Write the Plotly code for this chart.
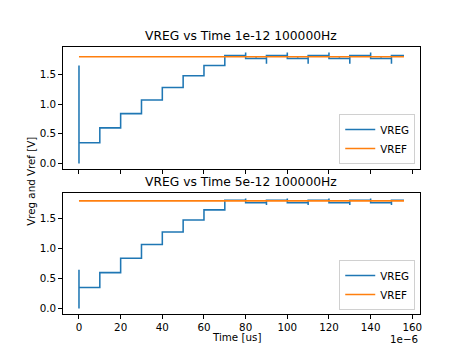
import plotly.graph_objects as go

# ---- data (time in microseconds, voltage in volts) ----
t_top = [0, 0, 0, 10, 10, 20, 20, 30, 30, 40, 40, 50, 50, 60, 60, 70, 70,
         80, 80, 80, 85, 85, 85, 90, 90, 90,
         100, 100, 100, 105, 105, 105, 110, 110, 110,
         120, 120, 120, 125, 125, 125, 130, 130, 130,
         140, 140, 140, 145, 145, 145, 150, 150, 150, 156]
v_top = [0.0, 1.65, 0.35, 0.35, 0.60, 0.60, 0.84, 0.84, 1.07, 1.07, 1.28, 1.28, 1.48, 1.48, 1.65, 1.65, 1.82,
         1.82, 1.87, 1.77, 1.77, 1.79, 1.77, 1.77, 1.68, 1.82,
         1.82, 1.87, 1.77, 1.77, 1.79, 1.77, 1.77, 1.68, 1.82,
         1.82, 1.87, 1.77, 1.77, 1.79, 1.77, 1.77, 1.68, 1.82,
         1.82, 1.87, 1.77, 1.77, 1.79, 1.77, 1.77, 1.68, 1.82, 1.82]

t_bot = [0, 0, 0, 10, 10, 20, 20, 30, 30, 40, 40, 50, 50, 60, 60, 70, 70,
         80, 80, 80, 90, 90, 90,
         100, 100, 100, 110, 110, 110,
         120, 120, 120, 130, 130, 130,
         140, 140, 140, 150, 150, 150, 156]
v_bot = [0.0, 0.65, 0.35, 0.35, 0.60, 0.60, 0.84, 0.84, 1.07, 1.07, 1.28, 1.28, 1.48, 1.48, 1.65, 1.65, 1.81,
         1.81, 1.84, 1.77, 1.77, 1.73, 1.81,
         1.81, 1.84, 1.77, 1.77, 1.73, 1.81,
         1.81, 1.84, 1.77, 1.77, 1.73, 1.81,
         1.81, 1.84, 1.77, 1.77, 1.73, 1.81, 1.81]

t_ref = [0, 156]
v_ref = [1.8, 1.8]

titles = ["VREG vs Time 1e-12 100000Hz", "VREG vs Time 5e-12 100000Hz"]
x_ticks = [0, 20, 40, 60, 80, 100, 120, 140, 160]
y_ticks = [0.0, 0.5, 1.0, 1.5]
y_tick_text = ["0.0", "0.5", "1.0", "1.5"]

BLUE = "#1f77b4"
ORANGE = "#ff7f0e"
W, H = 474, 358
FONT = "DejaVu Sans"


def pad_range(vals, m=0.05):
    lo, hi = min(vals), max(vals)
    d = hi - lo
    return [lo - m * d, hi + m * d]


fig = go.Figure()

xr = pad_range(t_top + t_bot + t_ref)
x_dom = [63 / W, 422 / W]
y_doms = [[1 - 169 / H, 1 - 47 / H], [1 - 314 / H, 1 - 193 / H]]

series = [(t_top, v_top), (t_bot, v_bot)]
for i, (tt, vv) in enumerate(series):
    ax = "" if i == 0 else str(i + 1)
    lg = "legend" if i == 0 else "legend2"
    fig.add_trace(go.Scatter(x=tt, y=vv, mode="lines", name="VREG",
                             line=dict(color=BLUE, width=1.55),
                             xaxis="x" + ax, yaxis="y" + ax, legend=lg))
    fig.add_trace(go.Scatter(x=t_ref, y=v_ref, mode="lines", name="VREF",
                             line=dict(color=ORANGE, width=1.55),
                             xaxis="x" + ax, yaxis="y" + ax, legend=lg))

axis_common = dict(showline=True, linecolor="black", linewidth=0.8, mirror=True,
                   ticks="outside", ticklen=3.6, tickwidth=0.8, tickcolor="black",
                   showgrid=False, zeroline=False,
                   tickfont=dict(family=FONT, size=10.3, color="black"))

layout = dict(
    width=W, height=H, margin=dict(l=0, r=0, t=0, b=0),
    paper_bgcolor="white", plot_bgcolor="white",
    font=dict(family=FONT, color="black"),
    xaxis=dict(domain=x_dom, range=xr, tickvals=x_ticks, showticklabels=False,
               anchor="y", **axis_common),
    yaxis=dict(domain=y_doms[0], range=pad_range(v_top + v_ref), tickvals=y_ticks,
               ticktext=y_tick_text, anchor="x", **axis_common),
    xaxis2=dict(domain=x_dom, range=xr, tickvals=x_ticks, anchor="y2", **axis_common),
    yaxis2=dict(domain=y_doms[1], range=pad_range(v_bot + v_ref), tickvals=y_ticks,
                ticktext=y_tick_text, anchor="x2", **axis_common),
)
leg_common = dict(xanchor="right", yanchor="bottom", bgcolor="rgba(255,255,255,0.8)",
                  bordercolor="#d0d0d0", borderwidth=1,
                  font=dict(family=FONT, size=10.3, color="black"),
                  tracegroupgap=0, itemwidth=30)
layout["legend"] = dict(x=417 / W, y=1 - 164 / H, **leg_common)
layout["legend2"] = dict(x=417 / W, y=1 - 310 / H, **leg_common)
fig.update_layout(**layout)

ann = [
    dict(text=titles[0], x=242.5 / W, y=1 - 36 / H),
    dict(text=titles[1], x=242.5 / W, y=1 - 182 / H),
]
for a in ann:
    fig.add_annotation(xref="paper", yref="paper", showarrow=False,
                       xanchor="center", yanchor="middle",
                       font=dict(family=FONT, size=12.3, color="black"), **a)

fig.add_annotation(text="Time [us]", xref="paper", yref="paper", x=237 / W, y=1 - 337 / H,
                   showarrow=False, xanchor="center", yanchor="middle",
                   font=dict(family=FONT, size=10.3, color="black"))
fig.add_annotation(text="Vreg and Vref [V]", xref="paper", yref="paper", x=31 / W, y=1 - 181 / H,
                   showarrow=False, xanchor="center", yanchor="middle", textangle=-90,
                   font=dict(family=FONT, size=10.3, color="black"))
fig.add_annotation(text="1e\u22126", xref="paper", yref="paper", x=422 / W, y=1 - 339 / H,
                   showarrow=False, xanchor="right", yanchor="middle",
                   font=dict(family=FONT, size=10.3, color="black"))

fig.write_html("out.html", config={"displayModeBar": False},
               post_script="document.body.style.margin='0px';document.body.style.overflow='hidden';")
